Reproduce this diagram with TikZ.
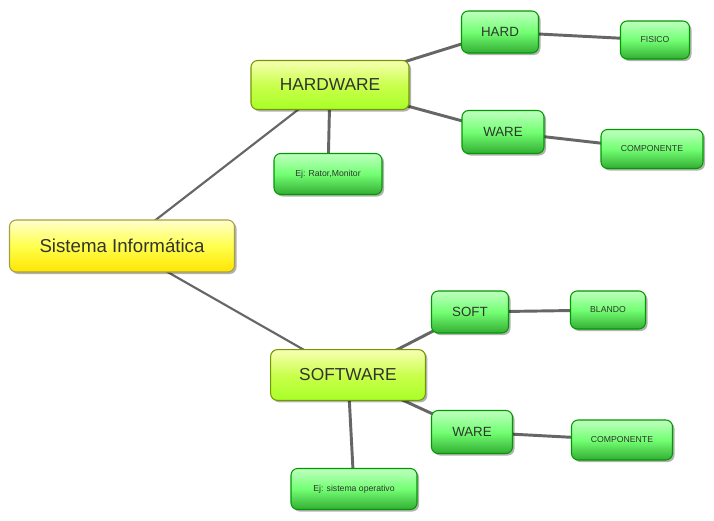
\documentclass[tikz,border=0pt]{standalone}
\usepackage{fontspec}
\setmainfont{Liberation Sans}
\usetikzlibrary{backgrounds,shadows}
\begin{document}
\begin{tikzpicture}[x=0.75pt,y=-0.75pt,
 box/.style={draw=#1!60!black,line width=0.8pt,rounded corners=5pt,inner sep=0pt,text=black!80,
   drop shadow={shadow xshift=1.5pt,shadow yshift=-1.5pt,fill=black,opacity=0.3}},
 ybox/.style={box=yellow,top color=yellow!20,bottom color=yellow!80!orange,middle color=yellow!70},
 lbox/.style={box=lime,top color=green!10!yellow!30,bottom color=green!40!yellow!85,middle color=green!30!yellow!70},
 gbox/.style={box=green,top color=green!25,bottom color=green!60!black!80,middle color=green!55},
 link/.style={line width=2.2pt,draw=black!60}]
\node[ybox,minimum width=168.75pt,minimum height=39pt,font=\fontsize{14}{16}\selectfont] (s) at (122,246) {Sistema Informática};
\node[lbox,minimum width=118.5pt,minimum height=36.75pt,font=\fontsize{13}{15}\selectfont] (hw) at (330,85) {HARDWARE};
\node[lbox,minimum width=116pt,minimum height=38pt,font=\fontsize{13}{15}\selectfont] (sw) at (348,375) {SOFTWARE};
\node[gbox,minimum width=57.75pt,minimum height=31.5pt,font=\fontsize{10}{12}\selectfont] (hard) at (500,32) {HARD};
\node[gbox,minimum width=51.75pt,minimum height=28.5pt,font=\fontsize{6.5}{8}\selectfont] (fis) at (655,40) {FISICO};
\node[gbox,minimum width=61.5pt,minimum height=32.25pt,font=\fontsize{10}{12}\selectfont] (w1) at (503,132) {WARE};
\node[gbox,minimum width=76.5pt,minimum height=29.25pt,font=\fontsize{6.5}{8}\selectfont] (c1) at (652,149) {COMPONENTE};
\node[gbox,minimum width=81pt,minimum height=30.75pt,font=\fontsize{6.5}{8}\selectfont] (ej1) at (328,174) {Ej: Rator,Monitor};
\node[gbox,minimum width=57.75pt,minimum height=31.5pt,font=\fontsize{10}{12}\selectfont] (soft) at (470,312) {SOFT};
\node[gbox,minimum width=56.25pt,minimum height=28.5pt,font=\fontsize{6.5}{8}\selectfont] (bl) at (608,310) {BLANDO};
\node[gbox,minimum width=60.75pt,minimum height=32.25pt,font=\fontsize{10}{12}\selectfont] (w2) at (472,432) {WARE};
\node[gbox,minimum width=75.75pt,minimum height=30pt,font=\fontsize{6.5}{8}\selectfont] (c2) at (622,440) {COMPONENTE};
\node[gbox,minimum width=94.5pt,minimum height=30.75pt,font=\fontsize{6.5}{8}\selectfont] (ej2) at (354,489) {Ej: sistema operativo};
\begin{scope}[on background layer]
\fill[white] (0,0) rectangle (714,521);
\draw[link,line width=1.6pt] (s.center) -- (hw.center);
\draw[link,line width=1.6pt] (s.center) -- (sw.center);
\draw[link] (hw.center) -- (hard.center);
\draw[link] (hw.center) -- (w1.center);
\draw[link] (hw.center) -- (ej1.center);
\draw[link] (hard.center) -- (fis.center);
\draw[link] (w1.center) -- (c1.center);
\draw[link] (sw.center) -- (soft.center);
\draw[link] (sw.center) -- (w2.center);
\draw[link] (sw.center) -- (ej2.center);
\draw[link] (soft.center) -- (bl.center);
\draw[link] (w2.center) -- (c2.center);
\end{scope}
\end{tikzpicture}
\end{document}
